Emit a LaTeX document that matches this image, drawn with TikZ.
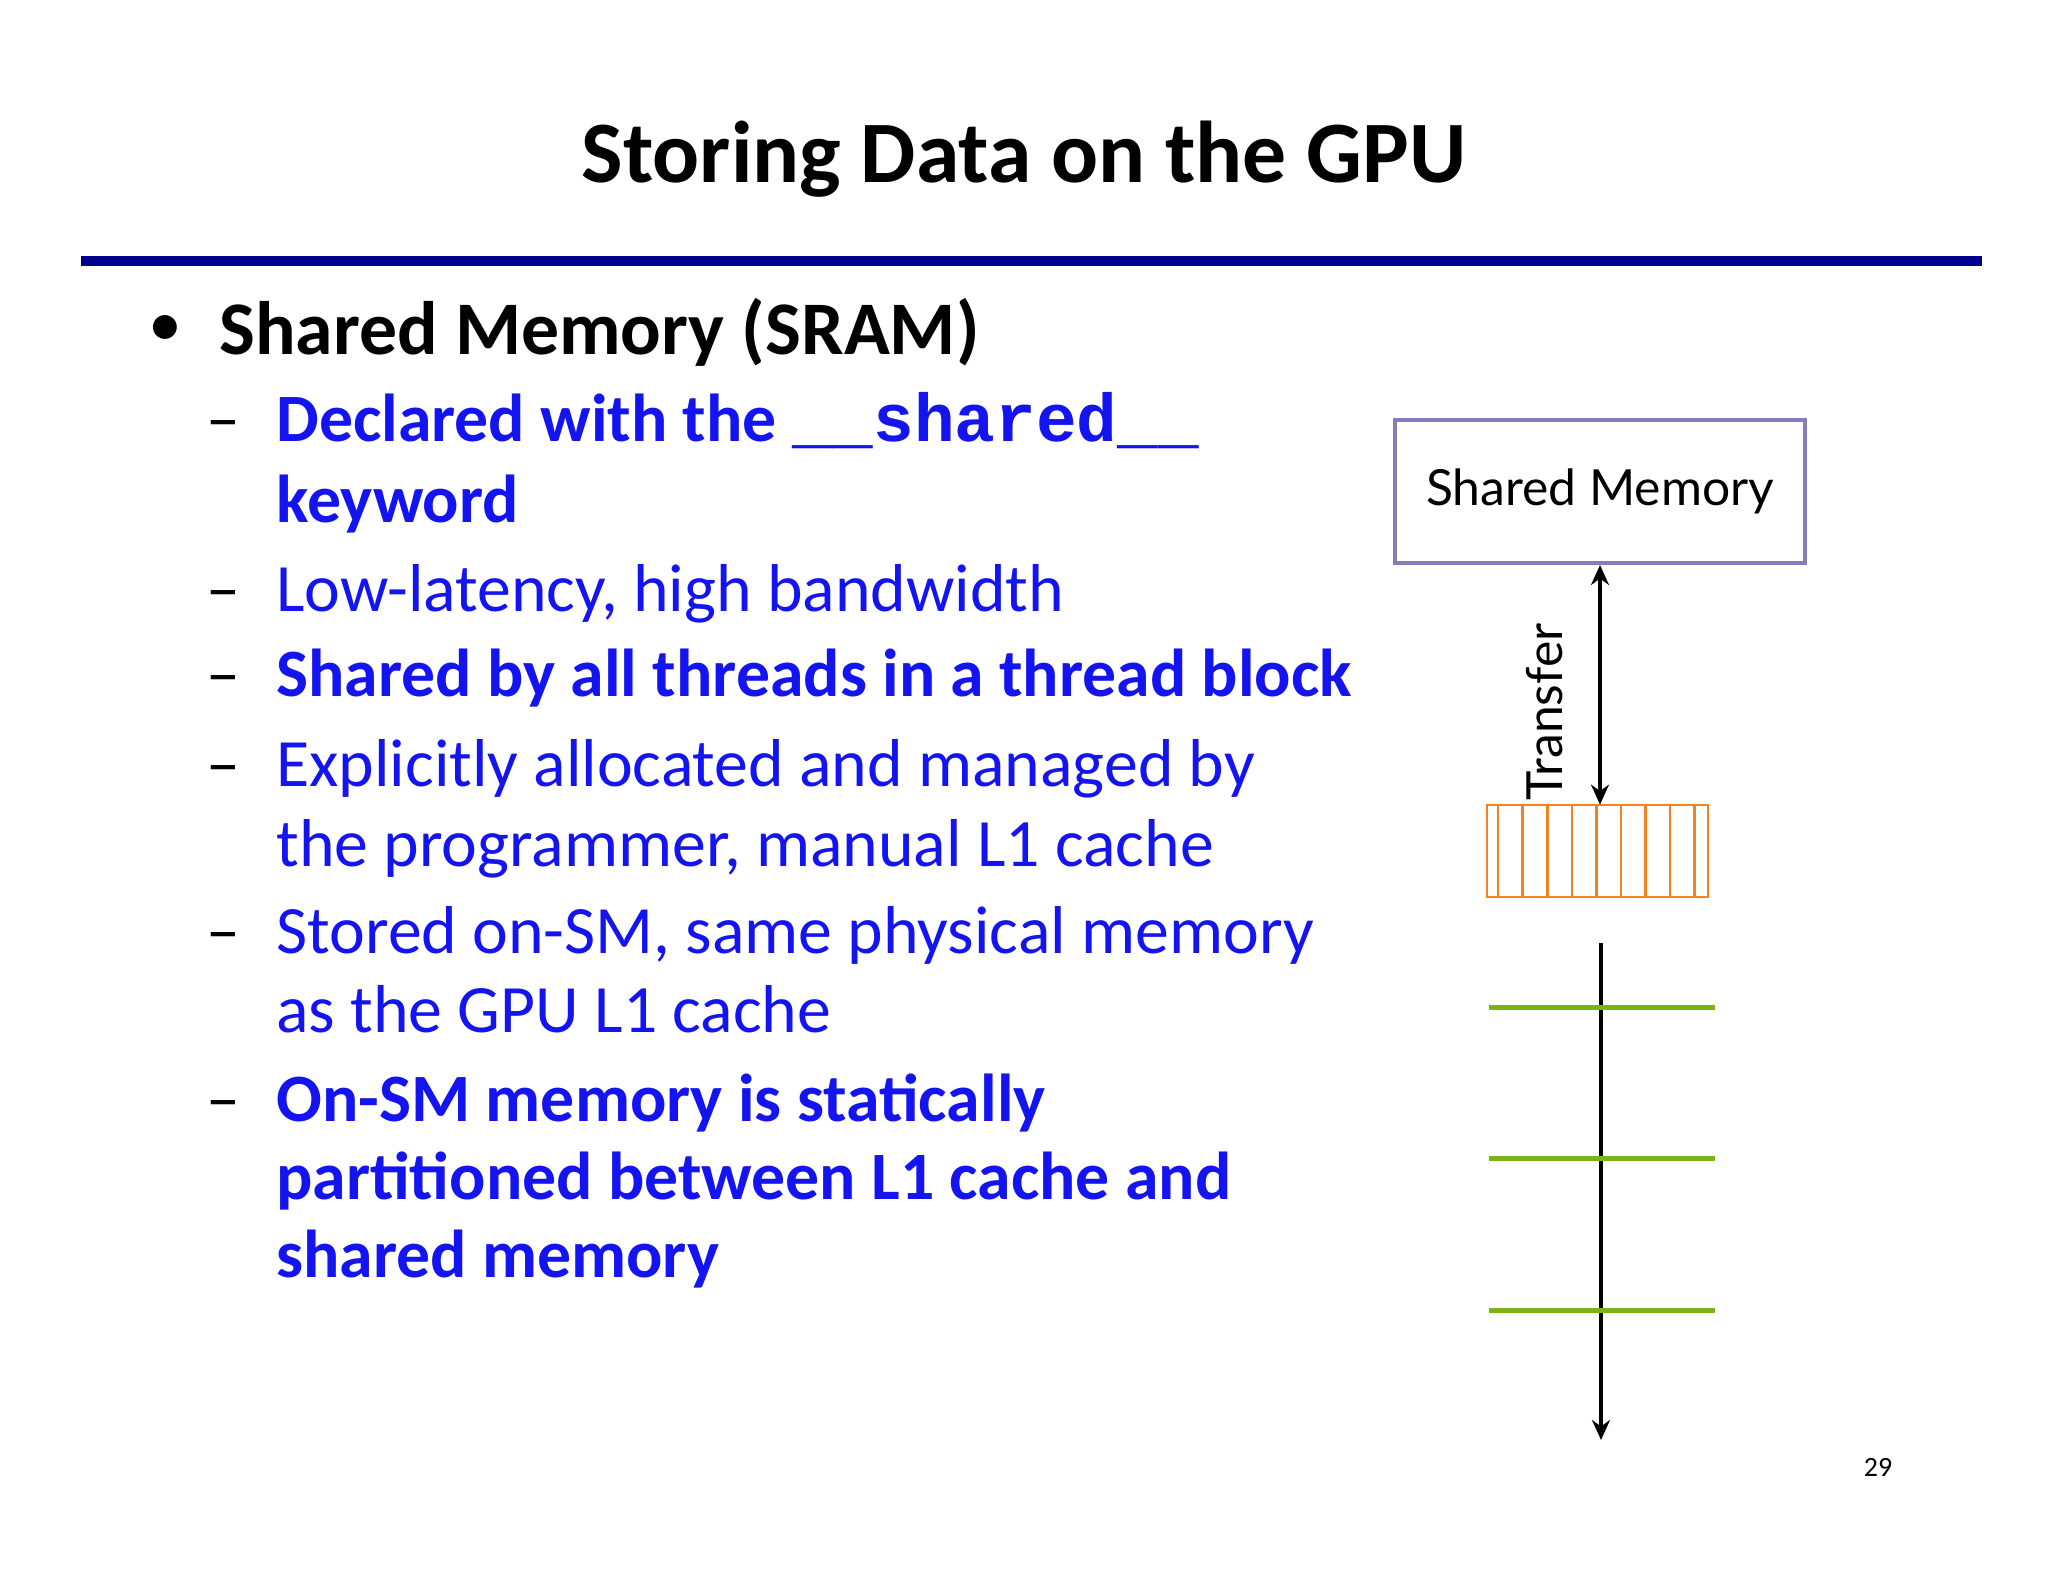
\documentclass[tikz,border=0pt]{standalone}
\usepackage{fontspec}
\setmainfont{Carlito}
\newfontfamily\monof{Liberation Mono}
\newfontfamily\diagf{Lato}
\usetikzlibrary{arrows.meta}
\definecolor{bl}{RGB}{20,20,240}
\definecolor{navy}{RGB}{0,0,140}
\definecolor{purp}{RGB}{135,125,190}
\definecolor{orng}{RGB}{245,130,32}
\definecolor{grn}{RGB}{122,179,23}
\begin{document}
\begin{tikzpicture}[x=0.5bp,y=-0.5bp,
  sub/.style={anchor=mid west,inner sep=0,text=bl,font=\fontsize{34}{40}\selectfont},
  dashmark/.style={anchor=mid west,inner sep=0,font=\fontsize{34}{40}\selectfont},
  arr/.style={line width=1.6bp,-{Stealth[length=10bp,width=9bp]}},
  grline/.style={grn,line width=2.5bp}]
\useasboundingbox (0,0) rectangle (2048,1582);
\node[font=\bfseries\fontsize{44}{50}\selectfont] (title) at (1024,159) {Storing Data on the GPU};
\draw[navy,line width=5bp] (81,261) -- (1982,261);
\node[anchor=mid,inner sep=0,font=\fontsize{34}{40}\selectfont] (b0) at (165,342) {•};
\node[anchor=mid west,inner sep=0,font=\bfseries\fontsize{38}{44}\selectfont] (t0) at (219,350) {Shared Memory (SRAM)};
\foreach \y in {437,607,692,782,949,1117}{\node[dashmark] at (206,\y) {–};}
\node[sub,font=\bfseries\fontsize{34}{40}\selectfont] (l1) at (276,437) {Declared with the {\monof\bfseries \_\_shared\_\_}};
\node[sub,font=\bfseries\fontsize{34}{40}\selectfont] (l1b) at (276,518) {keyword};
\node[sub] (l2) at (276,607) {Low-latency, high bandwidth};
\node[sub,font=\bfseries\fontsize{34}{40}\selectfont] (l3) at (276,692) {Shared by all threads in a thread block};
\node[sub] (l4) at (276,782) {Explicitly allocated and managed by};
\node[sub] (l4b) at (276,862) {the programmer, manual L1 cache};
\node[sub] (l5) at (276,949) {Stored on-SM, same physical memory};
\node[sub] (l5b) at (276,1028) {as the GPU L1 cache};
\node[sub,font=\bfseries\fontsize{34}{40}\selectfont] (l6) at (276,1117) {On-SM memory is statically};
\node[sub,font=\bfseries\fontsize{34}{40}\selectfont] (l6b) at (276,1195) {partitioned between L1 cache and};
\node[sub,font=\bfseries\fontsize{34}{40}\selectfont] (l6c) at (276,1273) {shared memory};
% diagram
\node[draw=purp,line width=2bp,minimum width=205bp,minimum height=71.5bp,inner sep=0,font=\diagf\fontsize{25}{30}\selectfont] (sm) at (1600,491.5) {Shared Memory};
\node[inner sep=0,minimum width=110.5bp,minimum height=46bp] (grid) at (1597.5,851) {};
\draw[orng,line width=1.3bp,xstep=24.56,ystep=30.67] (1487,805) grid (1708,897);
\draw[orng,line width=1.3bp] (1487,805) rectangle (1708,897);
\draw[arr,{Stealth[length=10bp,width=9bp]}-{Stealth[length=10bp,width=9bp]}] (sm.south -| 1600,0) -- (grid.north -| 1600,0);
\node[rotate=90,inner sep=0,font=\diagf\fontsize{25}{30}\selectfont] (tr) at (1545,712) {Transfer};
\coordinate (bot) at (1601,1440);
\coordinate (gtop) at (1601,943);
\draw[arr] (gtop) -- (bot);
\foreach \y in {1007,1158,1310}{\draw[grline] (1489,\y) -- (1715,\y);}
\node[font=\fontsize{14}{16}\selectfont] (pg) at (1878,1467) {29};
\end{tikzpicture}
\end{document}
